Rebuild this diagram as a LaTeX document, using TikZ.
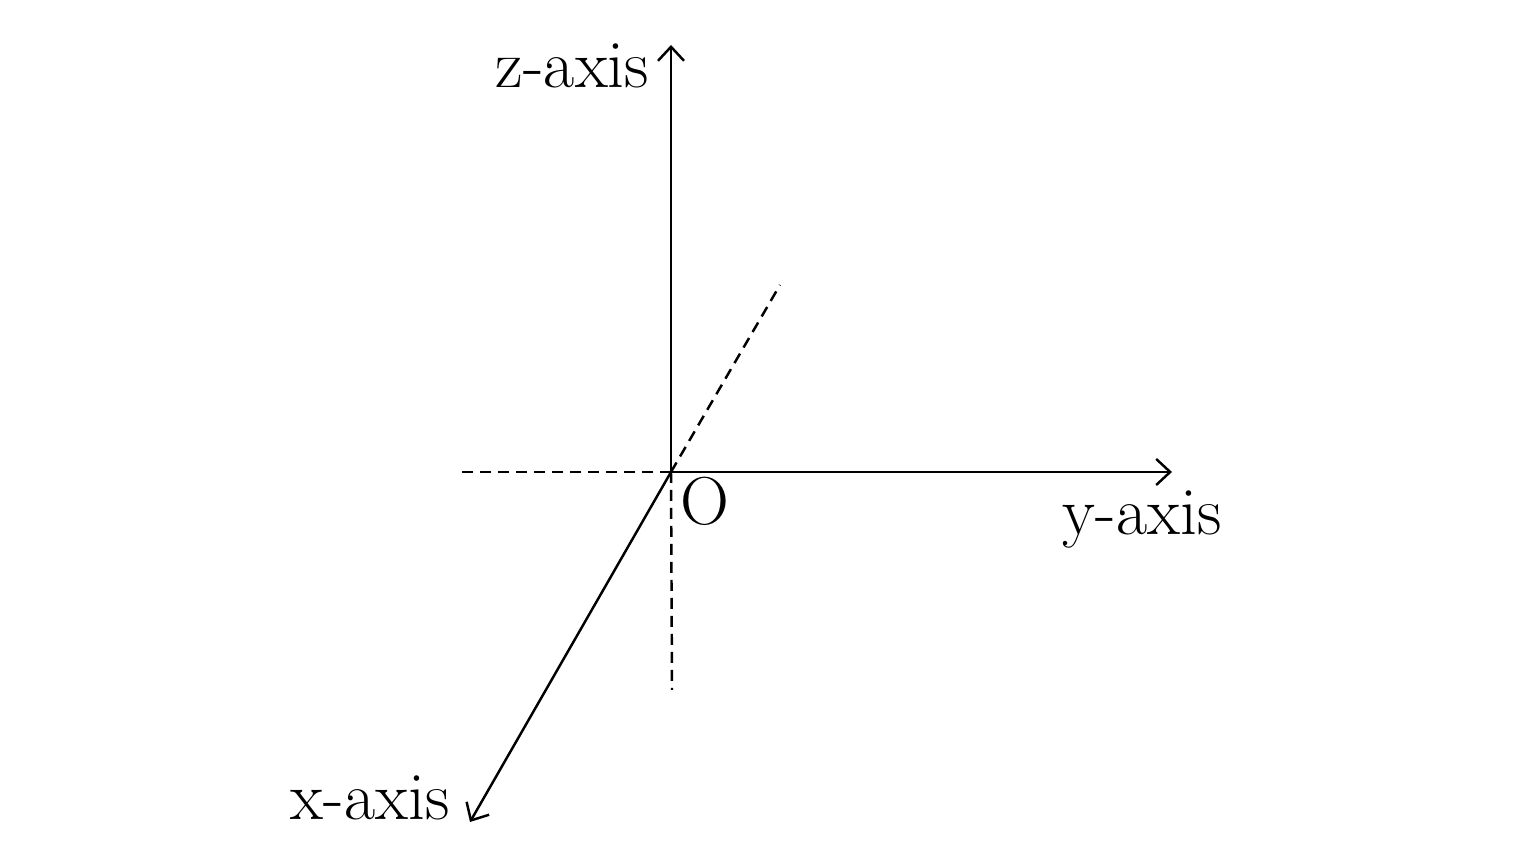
\documentclass[tikz,border=0pt]{standalone}
\usetikzlibrary{arrows.meta,positioning}
\tikzset{>={Straight Barb[length=0.14cm,width=0.26cm]}}
\tikzset{axis/.style={line width=0.7pt,->},
  guide/.style={line width=0.7pt,dash pattern=on 0.11cm off 0.07cm},
  lbl/.style={font=\fontsize{19.3}{21}\selectfont,inner sep=0pt}}

\begin{document}
\begin{tikzpicture}
    \useasboundingbox (0,0) rectangle (15.36,8.64);
    \coordinate (O) at (6.71,3.92);
    \coordinate (ztip) at (6.71,8.19);
    \coordinate (ytip) at (11.72,3.92);
    \coordinate (xtip) at (4.70,0.42);
    \coordinate (back) at (7.80,5.79);
    \coordinate (left) at (4.55,3.92);
    \coordinate (down) at (6.72,1.74);

    \draw [axis] (O) -- (ztip);
    \draw [axis] (O) -- (ytip);
    \draw [axis] (O) -- (xtip);
    \draw [guide] (O) -- (back);
    \draw [guide] (O) -- (left);
    \draw [guide] (O) -- (down);

    \node (zlab) [lbl,anchor=base east] at (6.50,7.76) {z-axis};
    \node (ylab) [lbl,anchor=base west] at (10.62,3.29) {y-axis};
    \node (xlab) [lbl,anchor=base west] at (2.90,0.44) {x-axis};
    \node (olab) [lbl,anchor=base west] at (6.80,3.39) {O};
  \end{tikzpicture}
\end{document}
